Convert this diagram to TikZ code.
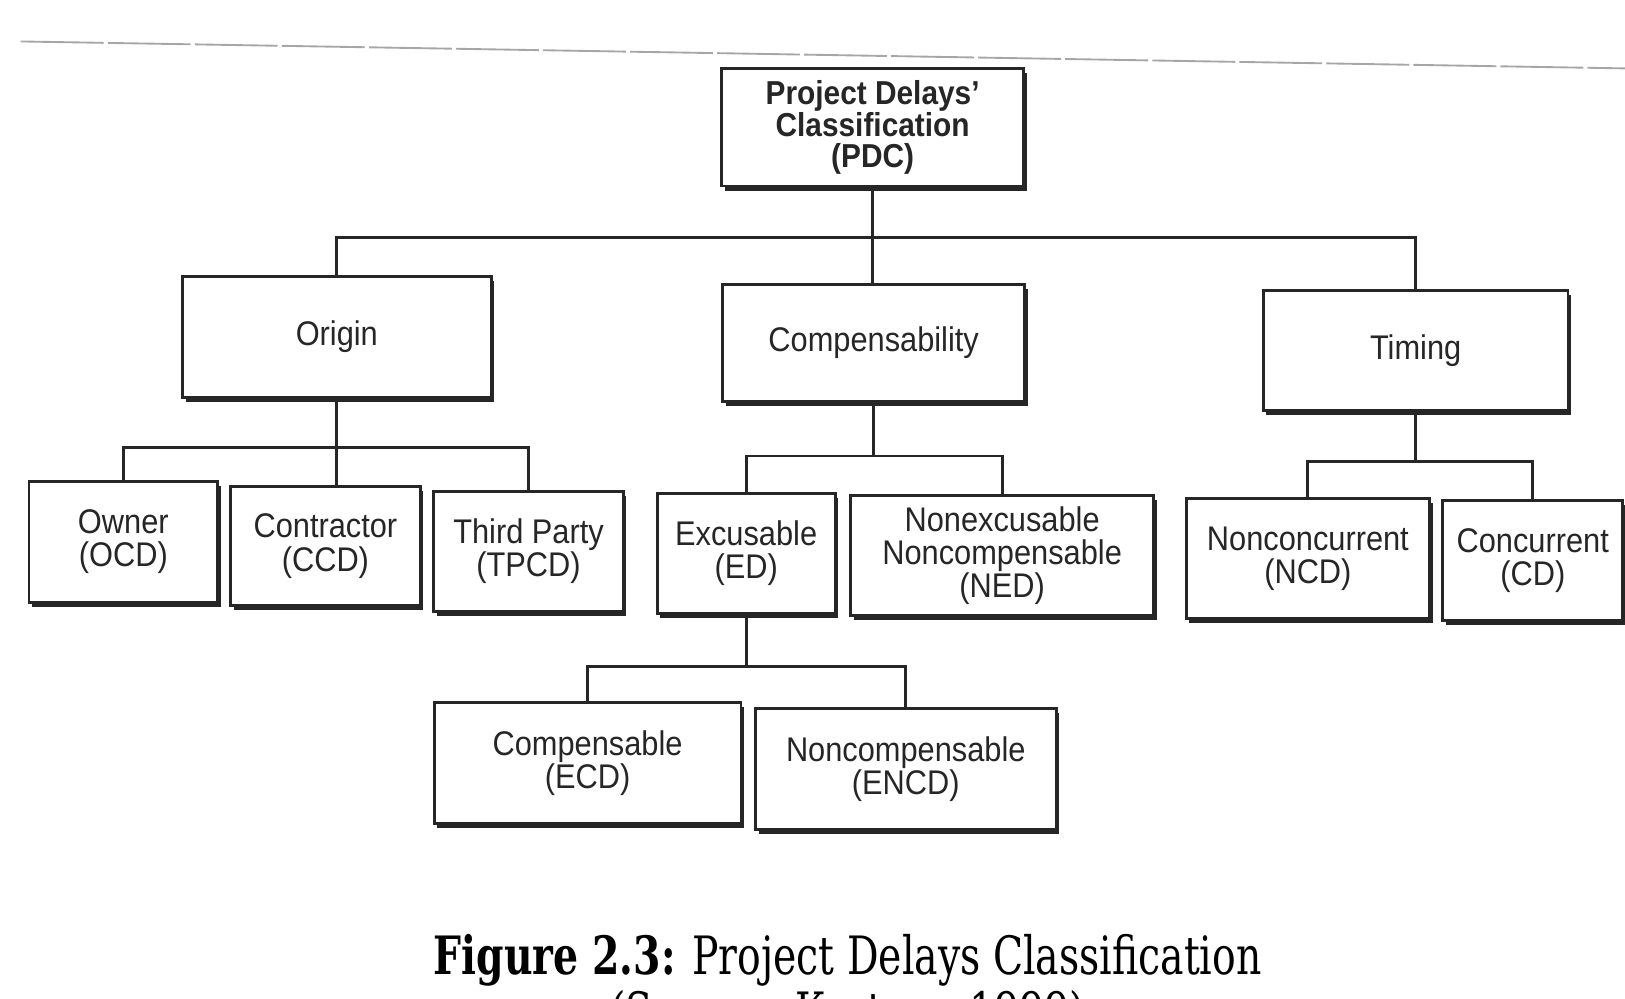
\documentclass[tikz,border=0pt]{standalone}
\usepackage{fontspec}
\newfontfamily\boxfont[FakeStretch=0.9]{Liberation Sans}
\newfontfamily\capfont[FakeStretch=0.745]{DejaVu Serif}
\usetikzlibrary{shadows}
\definecolor{ink}{HTML}{262626}

\begin{document}
\begin{tikzpicture}[x=0.5pt, y=-0.5pt,
  dbox/.style={draw=ink, line width=1.4pt, fill=white, align=center, text=ink,
    inner sep=0pt, font=\boxfont\fontsize{16.5}{16}\selectfont,
    drop shadow={shadow xshift=1.5pt, shadow yshift=-2.2pt, opacity=1, fill=ink}},
  boxsize/.style 2 args={minimum width=#1*0.5pt, minimum height=#2*0.5pt},
  link/.style={draw=ink, line width=1.4pt}]
\useasboundingbox (0,0) rectangle (1568,963);

% scanned header rule
\draw[gray!70, line width=0.9pt, dash pattern=on 40pt off 2pt] (20,40) -- (1568,66);

% level 0 and 1
\node[dbox, boxsize={291}{113}, font=\boxfont\bfseries\fontsize{16}{15}\selectfont] (pdc) at (842,123)
  {Project Delays’\\Classification\\(PDC)};
\node[dbox, boxsize={298}{117}] (origin) at (325,325) {Origin};
\node[dbox, boxsize={291}{113}] (compens) at (843,331) {Compensability};
\node[dbox, boxsize={294}{116}] (timing) at (1366,338) {Timing};

% level 2
\node[dbox, boxsize={182}{117}] (owner) at (119,523) {Owner\\(OCD)};
\node[dbox, boxsize={183}{115}] (contr) at (314,527) {Contractor\\(CCD)};
\node[dbox, boxsize={183}{116}] (third) at (510,532) {Third Party\\(TPCD)};
\node[dbox, boxsize={172}{116}] (excus) at (720,534) {Excusable\\(ED)};
\node[dbox, boxsize={292}{115}] (nonex) at (967,536) {Nonexcusable\\Noncompensable\\(NED)};
\node[dbox, boxsize={235}{116}] (ncd) at (1262,539) {Nonconcurrent\\(NCD)};
\node[dbox, boxsize={174}{116}] (cd) at (1479,541) {Concurrent\\(CD)};

% level 3
\node[dbox, boxsize={296}{117}] (ecd) at (567,736) {Compensable\\(ECD)};
\node[dbox, boxsize={290}{116}] (encd) at (874,742) {Noncompensable\\(ENCD)};

% buses
\coordinate (bus1) at (842,229);
\coordinate (bus2) at (322,432);
\coordinate (bus3) at (846,440);
\coordinate (bus4) at (1370,445);
\coordinate (bus5) at (721,643);

\draw[link] (pdc.south) -- (pdc.south |- compens.north);
\draw[link] (origin.north) |- (bus1) -| (timing.north);
\draw[link] (origin.south) -- (origin.south |- contr.north);
\draw[link] (owner.north) |- (bus2) -| (third.north);
\draw[link] (compens.south) -- (compens.south |- bus3);
\draw[link] (excus.north) |- (bus3) -| (nonex.north);
\draw[link] (timing.south) -- (timing.south |- bus4);
\draw[link] (ncd.north) |- (bus4) -| (cd.north);
\draw[link] (excus.south) -- (excus.south |- bus5);
\draw[link] (ecd.north) |- (bus5) -| (encd.north);

% caption
\node[anchor=base, inner sep=0pt, font=\capfont\fontsize{25.5}{26}\selectfont] (cap1) at (818,940)
  {\textbf{Figure 2.3:} Project Delays Classification};
\node[anchor=base, inner sep=0pt, font=\capfont\fontsize{25.5}{26}\selectfont] (cap2) at (818,994)
  {(Source: Kartam, 1999)};
\end{tikzpicture}
\end{document}
